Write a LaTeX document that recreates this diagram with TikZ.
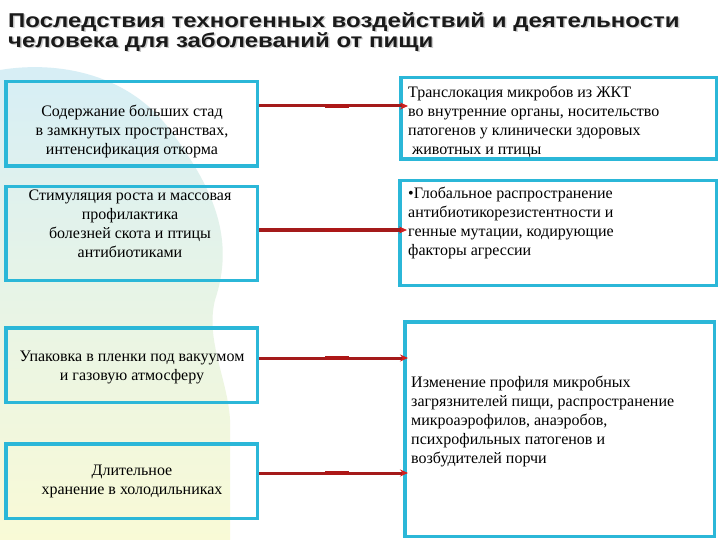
\documentclass[tikz,border=0pt]{standalone}
\usepackage{fontspec}
\setmainfont{Liberation Serif}
\newfontfamily\titlefont{Liberation Sans}[FakeStretch=1.2]
\usetikzlibrary{arrows.meta,calc}
\definecolor{boxcyan}{HTML}{2BB7D8}
\definecolor{arrred}{HTML}{A41A1A}
\definecolor{tipred}{HTML}{D02020}
\definecolor{bgblue}{HTML}{D6EEF6}
\definecolor{bggreen}{HTML}{E8F4E4}
\definecolor{bgyellow}{HTML}{F9FAD6}
\definecolor{titlegray}{HTML}{1A1A1A}
\tikzset{
  box/.style={draw=boxcyan, line width=3.5pt, rectangle, inner sep=0pt},
  bodytext/.style={font=\fontsize{16}{19}\selectfont, inner sep=0pt, text=black},
  ctext/.style={bodytext, align=center, anchor=north},
  ltext/.style={bodytext, align=left, anchor=north west},
  titletext/.style={font=\titlefont\bfseries\fontsize{20}{18}\selectfont, align=left, anchor=north west, inner sep=0pt},
  conn/.style={draw=arrred, line width=3pt, -{Stealth[length=8pt,width=7pt,color=tipred]}},
  bump/.style={draw=arrred!90!red, line width=4pt},
}
\begin{document}
\begin{tikzpicture}[x=1pt,y=-1pt]
\useasboundingbox (0,0) rectangle (720,540);
\fill[white] (0,0) rectangle (720,540);
% soft background
\shade[top color=bgblue, middle color=bggreen, bottom color=bgyellow]
  (0,70) .. controls (60,60) and (130,75) .. (170,130)
  .. controls (215,190) and (235,240) .. (215,300)
  .. controls (205,340) and (228,380) .. (230,420) -- (230,540) -- (0,540) -- cycle;
% title
\node[titletext, text=gray!40] (titleshadow) at (9.5,13.8)
  {Последствия техногенных воздействий и деятельности\\человека для заболеваний от пищи};
\node[titletext, text=titlegray] (title) at (8,12.3)
  {Последствия техногенных воздействий и деятельности\\человека для заболеваний от пищи};
% left boxes
\node[box, minimum width=251.5pt, minimum height=84.5pt] (L1) at (131.5,124) {};
\node[ctext] (t1) at (132,105) {Содержание больших стад\\в замкнутых пространствах,\\интенсификация откорма};
\node[box, minimum width=251.5pt, minimum height=93.5pt] (L2) at (131.5,233.5) {};
\node[ctext] (t2) at (130,190) {Стимуляция роста и массовая\\профилактика\\болезней скота и птицы\\антибиотиками};
\node[box, minimum width=251.5pt, minimum height=74.5pt] (L3) at (131.5,365) {};
\node[ctext] (t3) at (132,351) {Упаковка в пленки под вакуумом\\и газовую атмосферу};
\node[box, minimum width=251.5pt, minimum height=74.5pt] (L4) at (131.5,481) {};
\node[ctext] (t4) at (132,465) {Длительное\\хранение в холодильниках};
% right boxes
\node[box, minimum width=315.5pt, minimum height=81.5pt] (R1) at (558.5,118.5) {};
\node[ltext] (r1) at (408,86) {Транслокация микробов из ЖКТ\\во внутренние органы, носительство\\патогенов у клинически здоровых\\\ животных и птицы};
\node[box, minimum width=316.5pt, minimum height=104.5pt] (R2) at (558,233) {};
\node[ltext] (r2) at (408,187) {•Глобальное распространение\\антибиотикорезистентности и\\генные мутации, кодирующие\\факторы агрессии};
\node[box, minimum width=309.5pt, minimum height=214.5pt] (R3) at (559.5,429) {};
\node[ltext] (r3) at (411,376) {Изменение профиля микробных\\загрязнителей пищи, распространение\\микроаэрофилов, анаэробов,\\психрофильных патогенов и\\возбудителей порчи};
% connectors
\foreach \src/\dst/\yy/\dx in {L1/R1/106/9, L2/R2/230/9, L3/R3/358/5, L4/R3/473/5}{
  \draw[conn] (\src.east |- 0,\yy) -- ([xshift=\dx pt]\dst.west |- 0,\yy);
  \draw[bump] ($(\src.east |- 0,\yy)+(66,0)$) -- ($(\src.east |- 0,\yy)+(90,0)$);
}
\end{tikzpicture}
\end{document}
